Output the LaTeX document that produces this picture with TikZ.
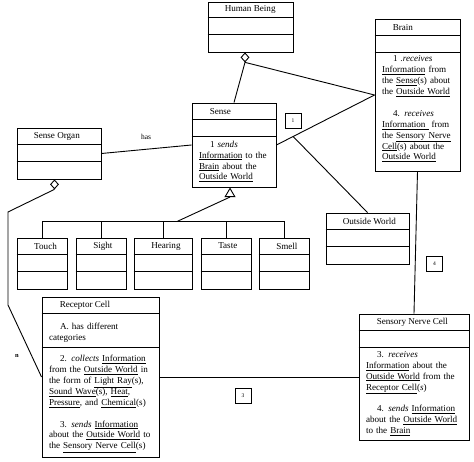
\documentclass[tikz,border=0pt]{standalone}
\usepackage{fontspec}
\setmainfont{Liberation Serif}
\usetikzlibrary{positioning,shapes.geometric}

\tikzset{
	classbox/.style={draw, line width=0.9pt, inner sep=0pt},
	compline/.style={line width=0.9pt},
	title/.style={anchor=west, inner sep=0pt, font=\fontsize{9.1}{10.9}\selectfont},
	body/.style={inner sep=0pt, align=left, font=\fontsize{9.1}{10.9}\selectfont},
	link/.style={line width=0.9pt},
	agg/.style={diamond, draw, fill=white, line width=0.9pt, minimum width=8pt, minimum height=9pt, inner sep=0pt},
	gen/.style={regular polygon, regular polygon sides=3, draw, fill=white, line width=0.9pt, minimum size=11pt, inner sep=0pt},
	tag/.style={draw, line width=0.8pt, minimum width=16pt, minimum height=15pt, inner sep=0pt, font=\fontsize{5.5}{6}\selectfont},
}
\newcommand{\ind}{\hspace*{11pt}}

\begin{document}
\begin{tikzpicture}[x=1pt, y=-1pt]
		\useasboundingbox (0,0) rectangle (474,462);

		% Human Being
		\node[classbox, minimum width=85pt, minimum height=50pt] (human) at (250.5,27) {};
		\draw[compline] ([yshift=-16pt]human.north west) -- ([yshift=-16pt]human.north east);
		\draw[compline] ([yshift=-33pt]human.north west) -- ([yshift=-33pt]human.north east);
		\node[title] (human-t) at ([xshift=17pt,yshift=-8pt]human.north west) {Human Being};

		% Brain
		\node[classbox, minimum width=85pt, minimum height=152pt] (brain) at (417.5,95) {};
		\draw[compline] ([yshift=-17pt]brain.north west) -- ([yshift=-17pt]brain.north east);
		\draw[compline] ([yshift=-34pt]brain.north west) -- ([yshift=-34pt]brain.north east);
		\node[title] (brain-t) at ([xshift=18pt,yshift=-8.5pt]brain.north west) {Brain};
		\node[body, text width=71pt] (brain-b) at (417.5,109) {\ind 1 \textit{.receives}\\
			\underline{Information} from\\
			the \underline{Sense}(s) about\\
			the \underline{Outside World}\\[10.9pt]
			\ind 4. \textit{receives}\\
			\underline{Information\ } from\\
			the \underline{Sensory Nerve}\\
			\underline{Cell}(s) about the\\
			\underline{Outside World}};

		% Sense
		\node[classbox, minimum width=84pt, minimum height=84pt] (sense) at (234,145) {};
		\draw[compline] ([yshift=-17pt]sense.north west) -- ([yshift=-17pt]sense.north east);
		\draw[compline] ([yshift=-34pt]sense.north west) -- ([yshift=-34pt]sense.north east);
		\node[title] (sense-t) at ([xshift=18pt,yshift=-8.5pt]sense.north west) {Sense};
		\node[body, text width=70pt] (sense-b) at (234,161.5) {\ind 1 \textit{sends}\\
			\underline{Information} to the\\
			\underline{Brain} about the\\
			\underline{Outside World}};

		% Sense Organ
		\node[classbox, minimum width=84pt, minimum height=51pt] (organ) at (59,153.5) {};
		\draw[compline] ([yshift=-17pt]organ.north west) -- ([yshift=-17pt]organ.north east);
		\draw[compline] ([yshift=-34pt]organ.north west) -- ([yshift=-34pt]organ.north east);
		\node[title] (organ-t) at ([xshift=17pt,yshift=-8.5pt]organ.north west) {Sense Organ};

		% the five senses
		\foreach \cls/\txt/\cx/\bw in {touch/Touch/42/50, sight/Sight/101/50, hearing/Hearing/163/58, taste/Taste/226/50, smell/Smell/284/50} {
			\node[classbox, minimum width=\bw pt, minimum height=51pt] (\cls) at (\cx,263.5) {};
			\draw[compline] ([yshift=-17pt]\cls.north west) -- ([yshift=-17pt]\cls.north east);
			\draw[compline] ([yshift=-34pt]\cls.north west) -- ([yshift=-34pt]\cls.north east);
			\node[title] (\cls-t) at ([xshift=17.5pt,yshift=-8.5pt]\cls.north west) {\txt};
		}

		% Outside World
		\node[classbox, minimum width=83pt, minimum height=51pt] (outside) at (367.5,238.5) {};
		\draw[compline] ([yshift=-17pt]outside.north west) -- ([yshift=-17pt]outside.north east);
		\draw[compline] ([yshift=-34pt]outside.north west) -- ([yshift=-34pt]outside.north east);
		\node[title] (outside-t) at ([xshift=17pt,yshift=-8.5pt]outside.north west) {Outside World};

		% Receptor Cell
		\node[classbox, minimum width=117pt, minimum height=160pt] (receptor) at (100.5,377) {};
		\draw[compline] ([yshift=-17pt]receptor.north west) -- ([yshift=-17pt]receptor.north east);
		\draw[compline] ([yshift=-51pt]receptor.north west) -- ([yshift=-51pt]receptor.north east);
		\node[title] (receptor-t) at ([xshift=18pt,yshift=-8.5pt]receptor.north west) {Receptor Cell};
		\node[body, text width=103pt] (receptor-a) at (100.5,333) {\ind A. has different\\
			categories};
		\node[body, text width=103pt] (receptor-b) at (100.5,404) {\ind 2. \textit{collects} \underline{Information}\\
			from the \underline{Outside World} in\\
			the form of \underline{Light Ray}(s),\\
			\underline{Sound Wave}(s), \underline{Heat},\\
			\underline{Pressure}, and \underline{Chemical}(s)\\[10.9pt]
			\ind 3. \textit{sends} \underline{Information}\\
			about the \underline{Outside World} to\\
			the \underline{Sensory Nerve Cell}(s)};

		% Sensory Nerve Cell
		\node[classbox, minimum width=110pt, minimum height=126pt] (nerve) at (414,377) {};
		\draw[compline] ([yshift=-17pt]nerve.north west) -- ([yshift=-17pt]nerve.north east);
		\draw[compline] ([yshift=-34pt]nerve.north west) -- ([yshift=-34pt]nerve.north east);
		\node[title] (nerve-t) at ([xshift=18pt,yshift=-8.5pt]nerve.north west) {Sensory Nerve Cell};
		\node[body, text width=96pt] (nerve-b) at (414,393.5) {\ind 3. \textit{receives}\\
			\underline{Information} about the\\
			\underline{Outside World} from the\\
			\underline{Receptor Cell}(\textit{s})\\[10.9pt]
			\ind 4. \textit{sends} \underline{Information}\\
			about the \underline{Outside World}\\
			to the \underline{Brain}};

		% connectors
		\node[agg, anchor=north] (human-d) at ([xshift=-5.5pt]human.south) {};
		\draw[link] (human-d.south) -- (sense.north);
		\draw[link] (human-d.south) -- (brain.west);
		\draw[link] (sense.east) -- coordinate[pos=0.17] (assoc) (brain.west);
		\draw[link] (assoc) -- (outside.north);
		\draw[link] (organ.east) -- (sense.west);
		\node[font=\fontsize{7.5}{9}\selectfont, inner sep=0pt] (has) at (146,137) {has};

		\coordinate (split) at (177,221.5);
		\foreach \cls in {touch,sight,hearing,taste,smell}
			\draw[link] (\cls.north) |- (split);
		\node[gen, anchor=corner 1] (sense-g) at ([xshift=-4pt]sense.south) {};
		\draw[link] (sense-g.south) -- (split);

		\coordinate (bend1) at (8,212);
		\coordinate (bend2) at (8,305);
		\node[agg, anchor=north] (organ-d) at ([xshift=-4.5pt]organ.south) {};
		\draw[link] (organ-d.south) -- (bend1) -- (bend2) -- (receptor.west);
		\node[font=\fontsize{6.5}{8}\selectfont\bfseries, inner sep=0pt] (mult) at (17,356) {n};

		\draw[link] (receptor.east) -- (nerve.west);
		\draw[link] (brain.south) -- (nerve.north);

		% numbered tags
		\node[tag] (tag1) at (293,120.5) {1};
		\node[tag] (tag4) at (434.5,263.5) {4};
		\node[tag] (tag3) at (243,396) {3};
	\end{tikzpicture}
\end{document}
